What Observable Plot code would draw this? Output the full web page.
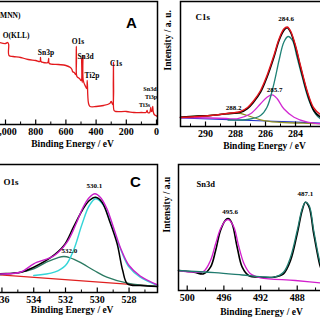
<!DOCTYPE html>
<html><head><meta charset="utf-8">
<script src="https://cdn.jsdelivr.net/npm/d3@7"></script>
<script src="https://cdn.jsdelivr.net/npm/@observablehq/plot@0.6"></script>
<style>
body{margin:0;background:#fff}
#wrap{position:relative;width:320px;height:320px;overflow:hidden;background:#fff}
.panel{position:absolute}
.panel svg{max-width:none;overflow:visible;display:block}
</style></head><body><div id="wrap"></div>
<script>
// ---------- Panel A: survey ----------
const surveyE = [1040,1000,985,979,977,950,900,850,800,772,768,765,750,720,714,710,650,600,570,560,556,545,535,532,531,530,527,510,499,496,494,492,489,487,485,470,462,459,457,455,450,440,400,350,310,300,290,286,285,284,281,270,200,150,100,70,62,58,45,38,34,28,25,22,15,5,-5];
const surveyI = [82,81,82,80,69,68,67,65,64,63,67,63,62,62,66,61,60,59,57,55,53,52,50,64,78,64,48,46,44,66,49,42,64,69,44,38,36,44,38,29,21,18,18,19,21,23,20,44,62,34,14,13,13,12,12,12,14,12,12,17,13,14,18,13,10,9,8];
const surveyLabelText = ["O(KLL)","Sn3p","O1s","Sn3d","Ti2p","C1s"];
const surveyLabelE = [930,732,520,470,427,268];
const surveyLabelI = [89,72,83,68,49,61];
const surveySmallText = ["Sn3d","Ti3p","Ti3s"];
const surveySmallE = [43,36,79];
const surveySmallI = [35,27,19];
const surveyTicks = [0,200,400,600,800,1000];
const surveyMinor = [100,300,500,700,900,1100];

// ---------- Panel B: C1s ----------
const c1sDataE = [291.67,290.5,289.67,288.6,287.67,287.2,286.8,286.33,285.9,285.44,285.1,284.78,284.55,284.33,284.0,283.67,283.2,282.78,282.33,281.9,281.67];
const c1sDataI = [9.3,10.5,11,12.7,14.3,18,24.3,34.3,49.3,69.3,86,96,98.7,94.3,79.3,59.3,32.7,16,9.3,7,6];
const c1sFitE = [291.67,289.67,288.6,287.67,287.2,286.8,286.33,285.9,285.44,285.1,284.78,284.55,284.33,284.0,283.67,283.2,282.78,282.33,281.67];
const c1sFitI = [9,11,13,15,19,25.5,36,51,71,87.5,97.5,99.5,95.5,81,61,34.5,18.5,12,8];
const c1sP1E = [288.5,287.2,286.33,285.9,285.44,285.1,284.78,284.5,284.2,283.9,283.55,283.1,282.67,282.33,281.67];
const c1sP1I = [6.5,7,11,19.3,42.7,66,84.3,90,86,69.3,49.3,26,12.7,7.7,4];
const c1sP2E = [291.67,289.67,288.6,287.9,287,286.33,285.9,285.55,285.22,284.78,284.1,283.2,282.33,281.67];
const c1sP2I = [9,8.5,8,7.7,12.7,22.7,29.3,31.7,27.7,17.7,9.3,4.3,2.7,2];
const c1sP3E = [291.67,290.5,289.67,288.6,287.8,287.2,286.33,285.22,283.5,281.67];
const c1sP3I = [9.3,10.5,11,12.7,13.3,11,6.7,4.3,3.3,2.5];
const c1sBgE = [291.67,286,281.67];
const c1sBgI = [8.5,5.5,3];
const c1sLabelText = ["284.6","285.7","288.2"];
const c1sLabelE = [284.63,285.4,288.13];
const c1sLabelI = [108,37,19];
const c1sTicks = [290,288,286,284];
const c1sTickMarks = [290,288,286,284,282];
const c1sMinor = [291,289,287,285,283];

// ---------- Panel C: O1s ----------
const o1sDataE = [537.35,536.1,534.8,534,532.9,532.1,531.5,530.95,530.5,530.1,529.7,529.2,528.75,528.4,528.1,527.3,526.24];
const o1sDataI = [18,18.7,20.3,25.3,35.3,47,65.3,82,92,95.3,90.3,70.3,48.7,22,8.7,7,6];
const o1sFitE = [536.1,534.8,534,532.7,531.9,531.3,530.9,530.5,530.15,529.8,529.4,529.0,528.5,528.0,527.3,526.2];
const o1sFitI = [18.5,20.5,28.7,37,50.3,70,85,95,98.7,95,84,66,43,27,16.5,7.5];
const o1sP1E = [534,532.7,532,531.5,530.95,530.5,530.1,529.6,529.06,528.5,528,527.3,526.2];
const o1sP1I = [17,20.3,27,42,68.7,87,93.7,87,65.3,42,25.3,15.3,7];
const o1sP2E = [537.35,536.1,534.8,534,533.2,532.5,532.1,531.7,531.1,530.2,529.4,528.1,526.2];
const o1sP2I = [17.5,18,20.3,23.7,30.3,34.7,36,34.7,30.3,22,15.3,9.3,6];
const o1sBgE = [537.35,526.2];
const o1sBgI = [19,6.2];
const o1sLabelText = ["530.1","532.0"];
const o1sLabelE = [530.18,531.75];
const o1sLabelI = [107,42];
const o1sTicks = [536,534,532,530,528];
const o1sMinor = [537,535,533,531,529,527];

// ---------- Panel D: Sn3d ----------
const sn3dDataE = [500.95,499.27,498.2,497.46,496.9,496.37,495.8,495.46,495.1,494.55,494,493.3,492,490.56,489.5,488.73,488,487.46,487.1,486.7,486.2,485.65,485.46,484.9,484.36];
const sn3dDataI = [20,18.3,16.7,23.3,40,60,70.7,71.7,66.7,43.3,23.3,15,13.3,13.3,16.7,30,56.7,80,88.3,83.3,56.7,30,23.3,12,8];
const sn3dP1E = [500.95,499.27,498.2,497.46,496.9,496.37,495.8,495.46,494.9,494.4,493.8,493.1,492,488.2,484.36];
const sn3dP1I = [20,18.3,19.3,30,46.7,61.7,70,70.7,63.3,45,26.7,16.7,12.7,10,6.7];
const sn3dP2E = [500.95,497,494,491.5,490.56,489.5,488.73,488,487.46,487.1,486.7,486.2,485.65,485.46,484.9,484.36];
const sn3dP2I = [20,17.8,15.5,13.5,13.3,18.3,33.3,60,81.7,88.3,85,60,33.3,26.7,14,10];
const sn3dLabelText = ["495.6","487.1"];
const sn3dLabelE = [495.33,487.1];
const sn3dLabelI = [78.3,96.7];
const sn3dTicks = [500,496,492,488];
const sn3dMinor = [498,494,490,486];

const xTitle = "Binding Energy / eV";
const serif = "'Liberation Serif', 'Times New Roman', serif";
const sans = "'Liberation Sans', Arial, sans-serif";

const zip = (E, I) => E.map((e, i) => ({E: e, I: I[i]}));
const lbl = (T, E, I) => T.map((t, i) => ({t, E: E[i], I: I[i]}));

function line(E, I, color, w = 1.3) {
  return Plot.line(zip(E, I), {x: "E", y: "I", stroke: color, strokeWidth: w, curve: "catmull-rom"});
}
function txt(T, E, I, opts) {
  return Plot.text(lbl(T, E, I), {x: "E", y: "I", text: "t", fontFamily: serif, fontWeight: "bold", fill: "#000", ...opts});
}

function panel(cfg) {
  const innerH = cfg.height - cfg.mt - cfg.mb;
  const p = Plot.plot({
    width: cfg.width, height: cfg.height,
    marginTop: cfg.mt, marginBottom: cfg.mb, marginLeft: cfg.ml, marginRight: cfg.mr,
    x: {domain: cfg.xDomain},
    y: {domain: cfg.yDomain, axis: null},
    style: {fontFamily: serif, background: "transparent", color: "#000"},
    marks: [
      ...cfg.marks,
      Plot.tickX(cfg.minor, {x: d => d, insetTop: innerH - 2.5, stroke: "#000", strokeWidth: 1}),
      Plot.tickX(cfg.tickMarks || cfg.major, {x: d => d, insetTop: innerH - 4.5, stroke: "#000", strokeWidth: 1.2}),
      Plot.axisX(cfg.major, {tickSize: 0, tickPadding: 3, fontSize: 10, fontWeight: "bold", fontFamily: serif, label: null}),
      Plot.text([{E: cfg.titleE, t: xTitle}], {x: "E", text: "t", frameAnchor: "bottom", dy: cfg.titleDy, fontSize: 9.5, fontWeight: "bold", fontFamily: serif, fill: "#000"}),
      ...(cfg.ylabel ? [Plot.text([{I: cfg.ylabelI, t: cfg.ylabel}], {y: "I", text: "t", frameAnchor: "left", dx: cfg.ylabelDx, rotate: -90, fontSize: 9.5, fontWeight: "bold", fontFamily: serif, fill: "#000"})] : []),
      Plot.frame({stroke: "#000", strokeWidth: 1.5})
    ]
  });
  const d = document.createElement("div");
  d.className = "panel";
  d.style.left = cfg.left + "px";
  d.style.top = cfg.top + "px";
  d.appendChild(p);
  document.getElementById("wrap").appendChild(d);
}

// Panel A
panel({
  left: -40, top: 0, width: 200, height: 160, mt: 1, mb: 36, ml: 20, mr: 3,
  xDomain: [1165.6, -6.6], yDomain: [0, 123], major: surveyTicks, minor: surveyMinor,
  titleE: 556, titleDy: 22.7,
  marks: [
    line(surveyE, surveyI, "#e3191c", 1.3),
    txt(["Sn(MNN)"], [900.7], [109], {fontSize: 7.5, textAnchor: "end"}),
    txt(surveyLabelText, surveyLabelE, surveyLabelI, {fontSize: 7.5, textAnchor: "middle"}),
    txt(surveySmallText, surveySmallE, surveySmallI, {fontSize: 6.2, textAnchor: "middle"}),
    Plot.text([{E: 166, I: 101, t: "A"}], {x: "E", y: "I", text: "t", fontFamily: sans, fontWeight: "bold", fontSize: 15, fill: "#000"})
  ]
});

// Panel B
panel({
  left: 160, top: 0, width: 180, height: 160, mt: 1, mb: 34, ml: 20, mr: 10,
  xDomain: [291.667, 281.667], yDomain: [0, 125], major: c1sTicks, tickMarks: c1sTickMarks, minor: c1sMinor,
  titleE: 286.07, titleDy: 22, ylabel: "Intensity / a. u.", ylabelI: 56, ylabelDx: -12.5,
  marks: [
    line(c1sBgE, c1sBgI, "#2233cc", 1.2),
    line(c1sP3E, c1sP3I, "#8f8f22", 1.3),
    line(c1sP2E, c1sP2I, "#d22ad2", 1.3),
    line(c1sP1E, c1sP1I, "#1f8276", 1.3),
    line(c1sDataE, c1sDataI, "#000", 1.6),
    line(c1sFitE, c1sFitI, "#e3141c", 1.4),
    txt(["C1s"], [290.67], [109], {fontSize: 9, textAnchor: "start"}),
    txt(c1sLabelText, c1sLabelE, c1sLabelI, {fontSize: 7, textAnchor: "middle"})
  ]
});

// Panel C
panel({
  left: -40, top: 160, width: 200, height: 160, mt: 4, mb: 28, ml: 20, mr: 3,
  xDomain: [537.35, 526.21], yDomain: [0, 128], major: o1sTicks, minor: o1sMinor,
  titleE: 531.58, titleDy: 20.7,
  marks: [
    line(o1sBgE, o1sBgI, "#e02020", 1.2),
    line(o1sP2E, o1sP2I, "#2b7a62", 1.3),
    line(o1sP1E, o1sP1I, "#35d5d8", 1.4),
    line(o1sDataE, o1sDataI, "#000", 1.5),
    line(o1sFitE, o1sFitI, "#c81ec8", 1.4),
    txt(["O1s"], [535.9], [110.3], {fontSize: 9, textAnchor: "start"}),
    txt(o1sLabelText, o1sLabelE, o1sLabelI, {fontSize: 7, textAnchor: "middle"}),
    Plot.text([{E: 527.6, I: 110, t: "C"}], {x: "E", y: "I", text: "t", fontFamily: sans, fontWeight: "bold", fontSize: 15, fill: "#000"})
  ]
});

// Panel D
panel({
  left: 160, top: 160, width: 180, height: 160, mt: 4, mb: 30, ml: 18, mr: 10,
  xDomain: [500.95, 484.37], yDomain: [0, 126], major: sn3dTicks, minor: sn3dMinor,
  titleE: 491.9, titleDy: 24, ylabel: "Intensity / a.u", ylabelI: 58, ylabelDx: -12,
  marks: [
    line(sn3dDataE, sn3dDataI, "#000", 1.6),
    line(sn3dP1E, sn3dP1I, "#d21ecc", 1.3),
    line(sn3dP2E, sn3dP2I, "#1f7a6e", 1.3),
    txt(["Sn3d"], [498.99], [106], {fontSize: 8.5, textAnchor: "start"}),
    txt(sn3dLabelText, sn3dLabelE, sn3dLabelI, {fontSize: 7, textAnchor: "middle"})
  ]
});
</script></body></html>
